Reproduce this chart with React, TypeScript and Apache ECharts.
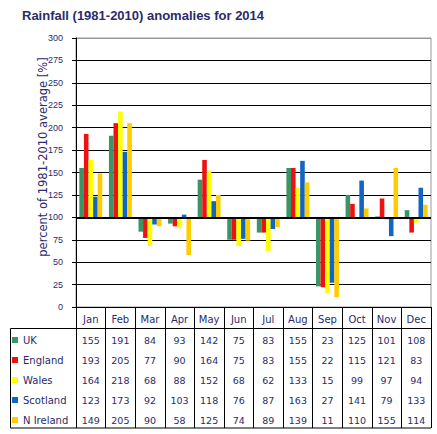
import React, { useEffect, useRef } from "react";
import * as echarts from "echarts";

const TITLE = "Rainfall (1981-2010) anomalies for 2014";
const Y_NAME = "percent of 1981-2010 average [%]";
const months = ["Jan", "Feb", "Mar", "Apr", "May", "Jun", "Jul", "Aug", "Sep", "Oct", "Nov", "Dec"];
const seriesNames = ["UK", "England", "Wales", "Scotland", "N Ireland"];
const uk = [155, 191, 84, 93, 142, 75, 83, 155, 23, 125, 101, 108];
const england = [193, 205, 77, 90, 164, 75, 83, 155, 22, 115, 121, 83];
const wales = [164, 218, 68, 88, 152, 68, 62, 133, 15, 99, 97, 94];
const scotland = [123, 173, 92, 103, 118, 76, 87, 163, 27, 141, 79, 133];
const nireland = [149, 205, 90, 58, 125, 74, 89, 139, 11, 110, 155, 114];
const allValues = [uk, england, wales, scotland, nireland];
const colors = ["#3a9466", "#ee1111", "#ffff00", "#1166c4", "#ffcc00"];
const BASE = 100;
const Y_MIN = 0;
const Y_MAX = 300;
const Y_STEP = 25;

const TEXT = "#2b2b6b";
const FONT = "DejaVu Sans";

export default function App() {
  const ref = useRef<HTMLDivElement>(null);
  useEffect(() => {
    if (!ref.current) return;
    const chart = echarts.init(ref.current, null, { renderer: "svg" });
    const W = 437;
    const H = 434;
    const gridLeft = 76;
    const gridRight = 6;
    const gridTop = 38;
    const gridBottom = 127;
    const axisY = H - gridBottom;
    const headerBottom = axisY + 21.5;
    const tableBottom = axisY + 121;
    const tableLeft = 10.5;
    const rightX = W - gridRight;
    const nLines = (Y_MAX - Y_MIN) / Y_STEP + 1;
    const splitColors = Array.from({ length: nLines }, (_, i) => (i === nLines - 1 ? "#999999" : "#000000"));

    const series: any[] = allValues.map((vals, k) => ({
      type: "custom",
      name: seriesNames[k],
      itemStyle: { color: colors[k] },
      encode: { x: 0, y: 1 },
      data: vals.map((v, i) => [i, v]),
      renderItem: (params: any, api: any) => {
        const idx = api.value(0);
        const v = api.value(1);
        const b = api.coord([idx, BASE]);
        const t = api.coord([idx, v]);
        const cw = api.size([1, 0])[0];
        const bw = cw * 0.155;
        const x = b[0] - 2.5 * bw + k * bw;
        return {
          type: "rect",
          shape: { x, y: Math.min(b[1], t[1]), width: bw, height: Math.abs(t[1] - b[1]) },
          style: { fill: api.visual("color") },
        };
      },
      ...(k === 0
        ? {
            markLine: {
              silent: true,
              symbol: "none",
              label: { show: false },
              lineStyle: { color: "#000", width: 2, type: "solid" },
              data: [{ yAxis: BASE }],
            },
          }
        : {}),
    }));

    const option: any = {
      animation: false,
      color: colors,
      title: {
        text: TITLE,
        left: 17,
        top: 4,
        textStyle: { fontFamily: "Liberation Sans", fontWeight: "bold", fontSize: 13, color: TEXT },
      },
      grid: {
        left: gridLeft,
        right: gridRight,
        top: gridTop,
        bottom: gridBottom,
        show: true,
        borderColor: "#999999",
        borderWidth: 1,
      },
      legend: {
        orient: "vertical",
        left: 12,
        top: axisY + 27,
        padding: 0,
        icon: "rect",
        itemWidth: 6,
        itemHeight: 6,
        itemGap: 8,
        data: seriesNames,
        textStyle: { fontFamily: FONT, fontSize: 10, color: TEXT, lineHeight: 12 },
      },
      xAxis: {
        type: "category",
        data: months,
        boundaryGap: true,
        axisLine: { show: true, lineStyle: { color: "#000", width: 1 } },
        axisTick: { show: true, length: 121, interval: 0, lineStyle: { color: "#000", width: 1 } },
        splitLine: { show: false },
        axisLabel: {
          interval: 0,
          margin: 1,
          formatter: (m: string, i: number) =>
            [`{m|${m}}`, ...allValues.map((vals) => `{v|${vals[i]}}`)].join("\n"),
          rich: {
            m: { fontFamily: FONT, fontSize: 10, color: TEXT, lineHeight: 22 },
            v: { fontFamily: FONT, fontSize: 9.5, color: TEXT, lineHeight: 20 },
          },
        },
      },
      yAxis: {
        type: "value",
        min: Y_MIN,
        max: Y_MAX,
        interval: Y_STEP,
        axisLine: { show: true, lineStyle: { color: "#000", width: 1 } },
        axisTick: { show: true, length: 4, lineStyle: { color: "#000" } },
        axisLabel: { margin: 13, fontFamily: "Liberation Sans", fontSize: 9, color: TEXT },
        splitLine: { show: true, lineStyle: { color: splitColors, width: 1 } },
      },
      graphic: [
        {
          type: "text",
          x: 43,
          y: 157,
          rotation: Math.PI / 2,
          style: { text: Y_NAME, fontFamily: FONT, fontSize: 11.5, fill: TEXT, align: "center", verticalAlign: "middle" },
        },
        { type: "line", shape: { x1: tableLeft, y1: headerBottom, x2: rightX, y2: headerBottom }, style: { stroke: "#000", lineWidth: 1 } },
        { type: "line", shape: { x1: tableLeft, y1: tableBottom, x2: rightX, y2: tableBottom }, style: { stroke: "#000", lineWidth: 1 } },
        { type: "line", shape: { x1: tableLeft, y1: headerBottom, x2: tableLeft, y2: tableBottom }, style: { stroke: "#000", lineWidth: 1 } },
      ],
      series,
    };
    chart.setOption(option);
    return () => chart.dispose();
  }, []);
  return <div ref={ref} style={{ position: "fixed", left: 0, top: 0, width: 437, height: 434, background: "#fff" }} />;
}
